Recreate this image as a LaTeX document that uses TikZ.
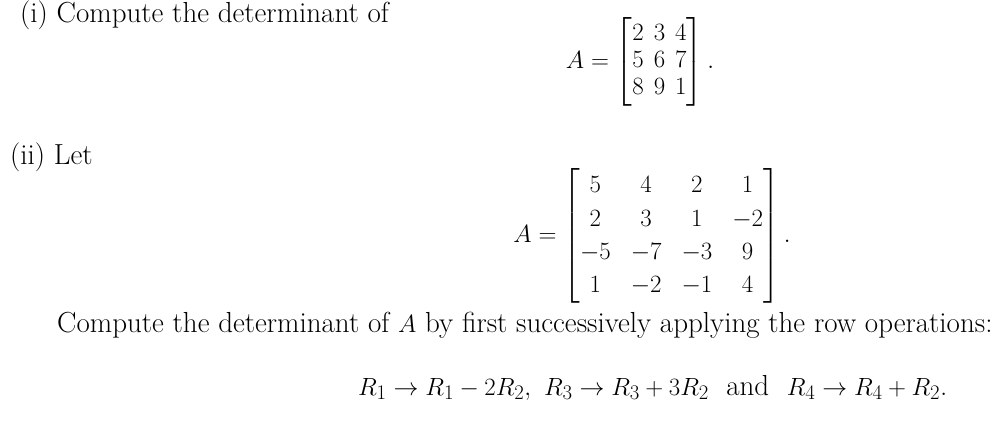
\documentclass[tikz,border=0pt]{standalone}
\usepackage{amsmath}
\begin{document}
\begin{tikzpicture}[x=1pt,y=1pt,txt/.style={inner sep=0pt,font=\fontsize{29}{34}\selectfont}]
\useasboundingbox (0,0) rectangle (1008,420);
\node[txt,anchor=base west] (t1) at (20,397) {(i)\ Compute the determinant of};
\node[txt] (m1) at (640,358) {$A=\renewcommand{\arraystretch}{0.8}\setlength{\arraycolsep}{5pt}\begin{bmatrix}2&3&4\\5&6&7\\8&9&1\end{bmatrix}.$};
\node[txt,anchor=base west] (t2) at (10,255) {(ii)\ Let};
\node[txt] (m2) at (652,184) {$A=\renewcommand{\arraystretch}{0.98}\setlength{\arraycolsep}{10pt}\begin{bmatrix}5&4&2&1\\2&3&1&-2\\-5&-7&-3&9\\1&-2&-1&4\end{bmatrix}.$};
\node[txt,anchor=base west] (t3) at (57,87) {Compute the determinant of $A$ by first successively applying the row operations:};
\node[txt,anchor=base west] (t4) at (358,25) {$R_1\to R_1-2R_2,\ R_3\to R_3+3R_2$\ \ and\ \ $R_4\to R_4+R_2$.};
\end{tikzpicture}
\end{document}
